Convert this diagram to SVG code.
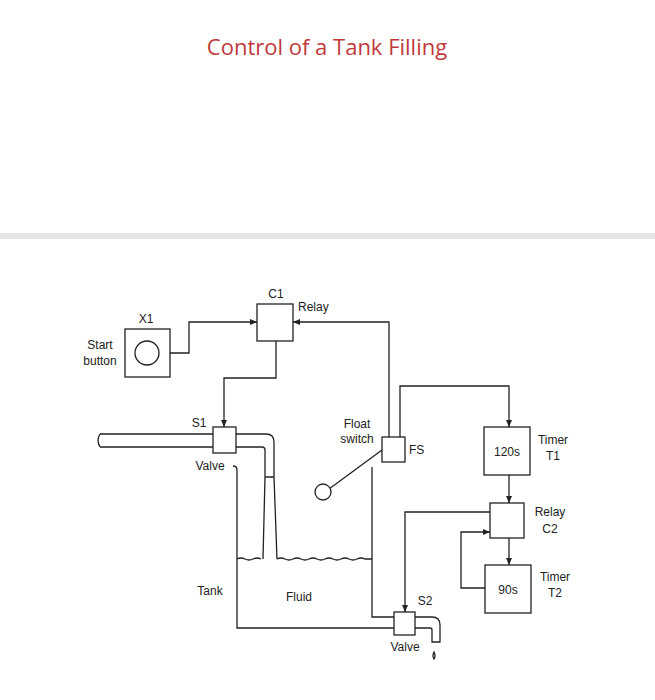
<svg xmlns="http://www.w3.org/2000/svg" width="655" height="700" viewBox="0 0 655 700">
<style>
.l{fill:none;stroke:#222;stroke-width:1.3}
.b{fill:#fff;stroke:#222;stroke-width:1.3}
text{font-family:"Liberation Sans",Arial,sans-serif;font-size:12px;fill:#222}
.c{text-anchor:middle}
</style>
<defs><marker id="a" markerWidth="8" markerHeight="8" refX="7" refY="4" orient="auto" markerUnits="userSpaceOnUse"><path d="M0,1 L7,4 L0,7Z" fill="#222"/></marker></defs>
<rect width="655" height="700" fill="#fff"/>
<text x="327" y="55" class="c" style="font-family:'Open Sans','Liberation Sans',sans-serif;font-size:22px;fill:#c0393b">Control of a Tank Filling</text>
<rect x="0" y="233" width="655" height="6" fill="#e4e4e4"/>
<g id="connectors">
<path class="l" d="M170,353 H189 V322 H257" marker-end="url(#a)"/>
<path class="l" d="M276,341 V378 H224 V427" marker-end="url(#a)"/>
<path class="l" d="M389,437 V322 H293" marker-end="url(#a)"/>
<path class="l" d="M400,437 V386 H509 V427" marker-end="url(#a)"/>
<path class="l" d="M509,475 V503" marker-end="url(#a)"/>
<path class="l" d="M509,538 V565" marker-end="url(#a)"/>
<path class="l" d="M485,588 H461 V532 H490" marker-end="url(#a)"/>
<path class="l" d="M490,512 H405 V612" marker-end="url(#a)"/>
</g>
<g id="pipes">
<path class="l" d="M213,434 H100 M213,447 H100 M100,434 Q96,440 100,447"/>
<path class="l" d="M236,434 H266 Q274,434 274,442 V477 M236,447 H262 Q265,447 265,450 V477 M265,477 H274"/>
<path class="l" d="M265,477 L263,559 M274,477 L277,559"/>
<path class="l" d="M233,466 Q237,466 237,470 V628 H394 M372,467 V617 H394"/>
<path class="l" d="M237,559 q4,-2 8,0 t8,0 t8,0 M277,559 q4,-2 8,0 t8,0 t8,0 t8,0 t8,0 t8,0 t8,0 t8,0 t8,0 t8,0 t8,0 h7"/>
<path class="l" d="M415,617 H432 Q440,617 440,625 V642 H432 V630 Q432,628 430,628 H415"/>
<path class="l" d="M434,652 Q432,656 434,659 Q436,656 434,652Z"/>
<path class="l" d="M382,450 L329,489"/>
<circle class="b" cx="323" cy="492" r="8"/>
</g>
<g id="X1"><rect class="b" x="125" y="329" width="45" height="48"/><circle class="b" cx="147" cy="353" r="12"/><text x="146" y="323" class="c">X1</text><text x="100" y="349" class="c">Start</text><text x="100" y="365" class="c">button</text></g>
<g id="C1"><rect class="b" x="257" y="304" width="36" height="37"/><text x="276" y="298" class="c">C1</text><text x="298" y="311">Relay</text></g>
<g id="S1"><rect class="b" x="213" y="427" width="23" height="26"/><text x="199" y="427" class="c">S1</text><text x="210" y="470" class="c">Valve</text></g>
<g id="FS"><rect class="b" x="382" y="437" width="23" height="25"/><text x="357" y="428" class="c">Float</text><text x="357" y="443" class="c">switch</text><text x="409" y="454">FS</text></g>
<g id="T1"><rect class="b" x="484" y="427" width="46" height="48"/><text x="507" y="456" class="c">120s</text><text x="553" y="444" class="c">Timer</text><text x="553" y="460" class="c">T1</text></g>
<g id="C2"><rect class="b" x="490" y="503" width="34" height="35"/><text x="550" y="516" class="c">Relay</text><text x="550" y="533" class="c">C2</text></g>
<g id="T2"><rect class="b" x="485" y="565" width="46" height="48"/><text x="508" y="594" class="c">90s</text><text x="555" y="581" class="c">Timer</text><text x="555" y="597" class="c">T2</text></g>
<g id="S2"><rect class="b" x="394" y="612" width="21" height="23"/><text x="425" y="605" class="c">S2</text><text x="405" y="651" class="c">Valve</text></g>
<g id="labels"><text x="210" y="595" class="c">Tank</text><text x="299" y="601" class="c">Fluid</text></g>
</svg>
